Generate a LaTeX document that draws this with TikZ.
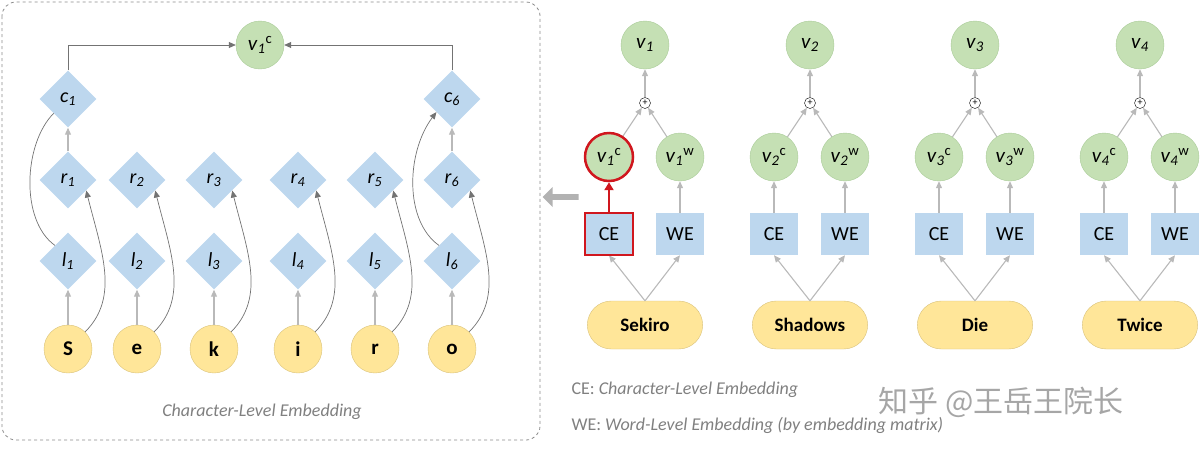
\documentclass[tikz,border=0pt]{standalone}
\usepackage{fontspec}
\setmainfont{Carlito}
\newfontfamily\cjk{Noto Sans CJK SC}
\usetikzlibrary{shapes.geometric,shapes.arrows,shapes.misc,arrows.meta,calc}
\definecolor{gfill}{HTML}{C5E0B4}
\definecolor{gdraw}{HTML}{A9CB98}
\definecolor{bfill}{HTML}{BDD7EE}
\definecolor{yfill}{HTML}{FFE699}
\definecolor{ydraw}{HTML}{D9C27A}
\definecolor{ared}{HTML}{D0171E}
\newcommand{\mysbs}[3]{\textit{#1}\textsubscript{\textit{#2}}\textsuperscript{#3}}
\newcommand{\mysb}[2]{\textit{#1}\textsubscript{\textit{#2}}}
\tikzset{
 ch/.style={circle,fill=yfill,draw=ydraw,minimum size=48pt,inner sep=0pt,font=\fontsize{21}{21}\selectfont\bfseries},
 dia/.style={diamond,fill=bfill,draw=none,minimum width=57pt,minimum height=57pt,inner sep=0pt,font=\fontsize{20}{20}\selectfont},
 vc/.style={circle,fill=gfill,draw=gdraw,minimum size=48pt,inner sep=0pt,font=\fontsize{21}{21}\selectfont},
 bx/.style={rectangle,fill=bfill,draw=none,minimum width=48pt,minimum height=42pt,inner sep=0pt,font=\fontsize{20}{20}\selectfont},
 pill/.style={rounded rectangle,fill=yfill,draw=ydraw,minimum width=122pt,minimum height=48pt,font=\fontsize{19}{19}\selectfont\bfseries},
 pl/.style={circle,draw=black,fill=white,minimum size=11pt,inner sep=0pt,font=\fontsize{10}{10}\selectfont},
 ga/.style={draw=gray!55,line width=1.1pt,-{Triangle[width=6pt,length=7pt]}},
 dk/.style={draw=gray!90!black,line width=0.7pt},
 dka/.style={dk,-{Triangle[width=6pt,length=7pt]}},
}
\begin{document}
\begin{tikzpicture}[x=1pt,y=-1pt]
\useasboundingbox (0,0) rectangle (1202,448);
\draw[gray!90,dashed,line width=0.8pt,rounded corners=14pt] (2,2) rectangle (540,440);
% left panel
\foreach \x/\c/\i in {68/S/1,137/e/2,214/k/3,298/i/4,375/r/5,452/o/6}{
 \node[ch] (s\i) at (\x,349) {\c};
 \node[dia] (l\i) at (\x,261) {\mysb{l}{\i}};
 \node[dia] (r\i) at (\x,180) {\mysb{r}{\i}};
 \draw[ga] (s\i) -- (l\i);
 \draw[dka] (s\i.45) .. controls +(35,-35) and +(15,60) .. (r\i.-30);
}
\node[dia] (c1) at (68,99) {\mysb{c}{1}};
\node[dia] (c6) at (452,99) {\mysb{c}{6}};
\node[vc] (vc) at (260,45) {\mysbs{v}{1}{c}};
\draw[ga] (r1) -- (c1);
\draw[ga] (r6) -- (c6);
\draw[dk] (l1.130) .. controls +(-35,-25) and +(-30,30) .. (c1.-135);
\draw[dka] (l6.130) .. controls +(-35,-25) and +(-30,40) .. (c6.-140);
\draw[dka] (c1.north) |- (vc.west);
\draw[dka] (c6.north) |- (vc.east);
\node[font=\fontsize{18}{18}\selectfont\itshape,text=gray] (lab1) at (262,412) {Character-Level Embedding};
% arrow
\node[single arrow,fill=gray!60,draw=none,shape border rotate=180,minimum height=36pt,minimum width=20pt,single arrow head extend=3pt,inner sep=1pt] (bigarr) at (562,197) {};
% right panel
\foreach \x/\w/\i in {645/Sekiro/1,810/Shadows/2,975/Die/3,1140/Twice/4}{
 \node[pill] (w\i) at (\x,325) {\w};
 \node[bx] (ce\i) at (\x-36,234) {CE};
 \node[bx] (we\i) at (\x+35,234) {WE};
 \node[vc] (vc\i) at (\x-36,157) {\mysbs{v}{\i}{c}};
 \node[vc] (vw\i) at (\x+35,157) {\mysbs{v}{\i}{w}};
 \node[pl] (p\i) at (\x,103) {+};
 \node[vc] (v\i) at (\x,45) {\mysb{v}{\i}};
 \draw[ga] (w\i.north) -- (ce\i.south);
 \draw[ga] (w\i.north) -- (we\i.south);
 \draw[ga] (we\i) -- (vw\i);
 \draw[ga] (vc\i) -- (p\i);
 \draw[ga] (vw\i) -- (p\i);
 \draw[ga] (p\i) -- (v\i);
}
\foreach \i in {2,3,4}{\draw[ga] (ce\i) -- (vc\i);}
\draw[ared,line width=2.5pt] (ce1.south west) rectangle (ce1.north east);
\draw[ared,line width=2.5pt] (vc1) circle (24pt);
\draw[ared,line width=2.5pt,-{Triangle[width=9pt,length=8pt]}] (ce1.north) -- ($(vc1.south)+(0,1)$);
\node[anchor=west,text=gray,font=\fontsize{18}{18}\selectfont] (t1) at (568,390) {CE: \textit{Character-Level Embedding}};
\node[anchor=west,text=gray,font=\fontsize{18}{18}\selectfont] (t2) at (568,425) {WE: \textit{Word-Level Embedding (by embedding matrix)}};
\node[anchor=west,text=gray!70,font=\cjk\fontsize{30}{30}\selectfont] (wm) at (875,402) {知乎 @王岳王院长};
\end{tikzpicture}
\end{document}
